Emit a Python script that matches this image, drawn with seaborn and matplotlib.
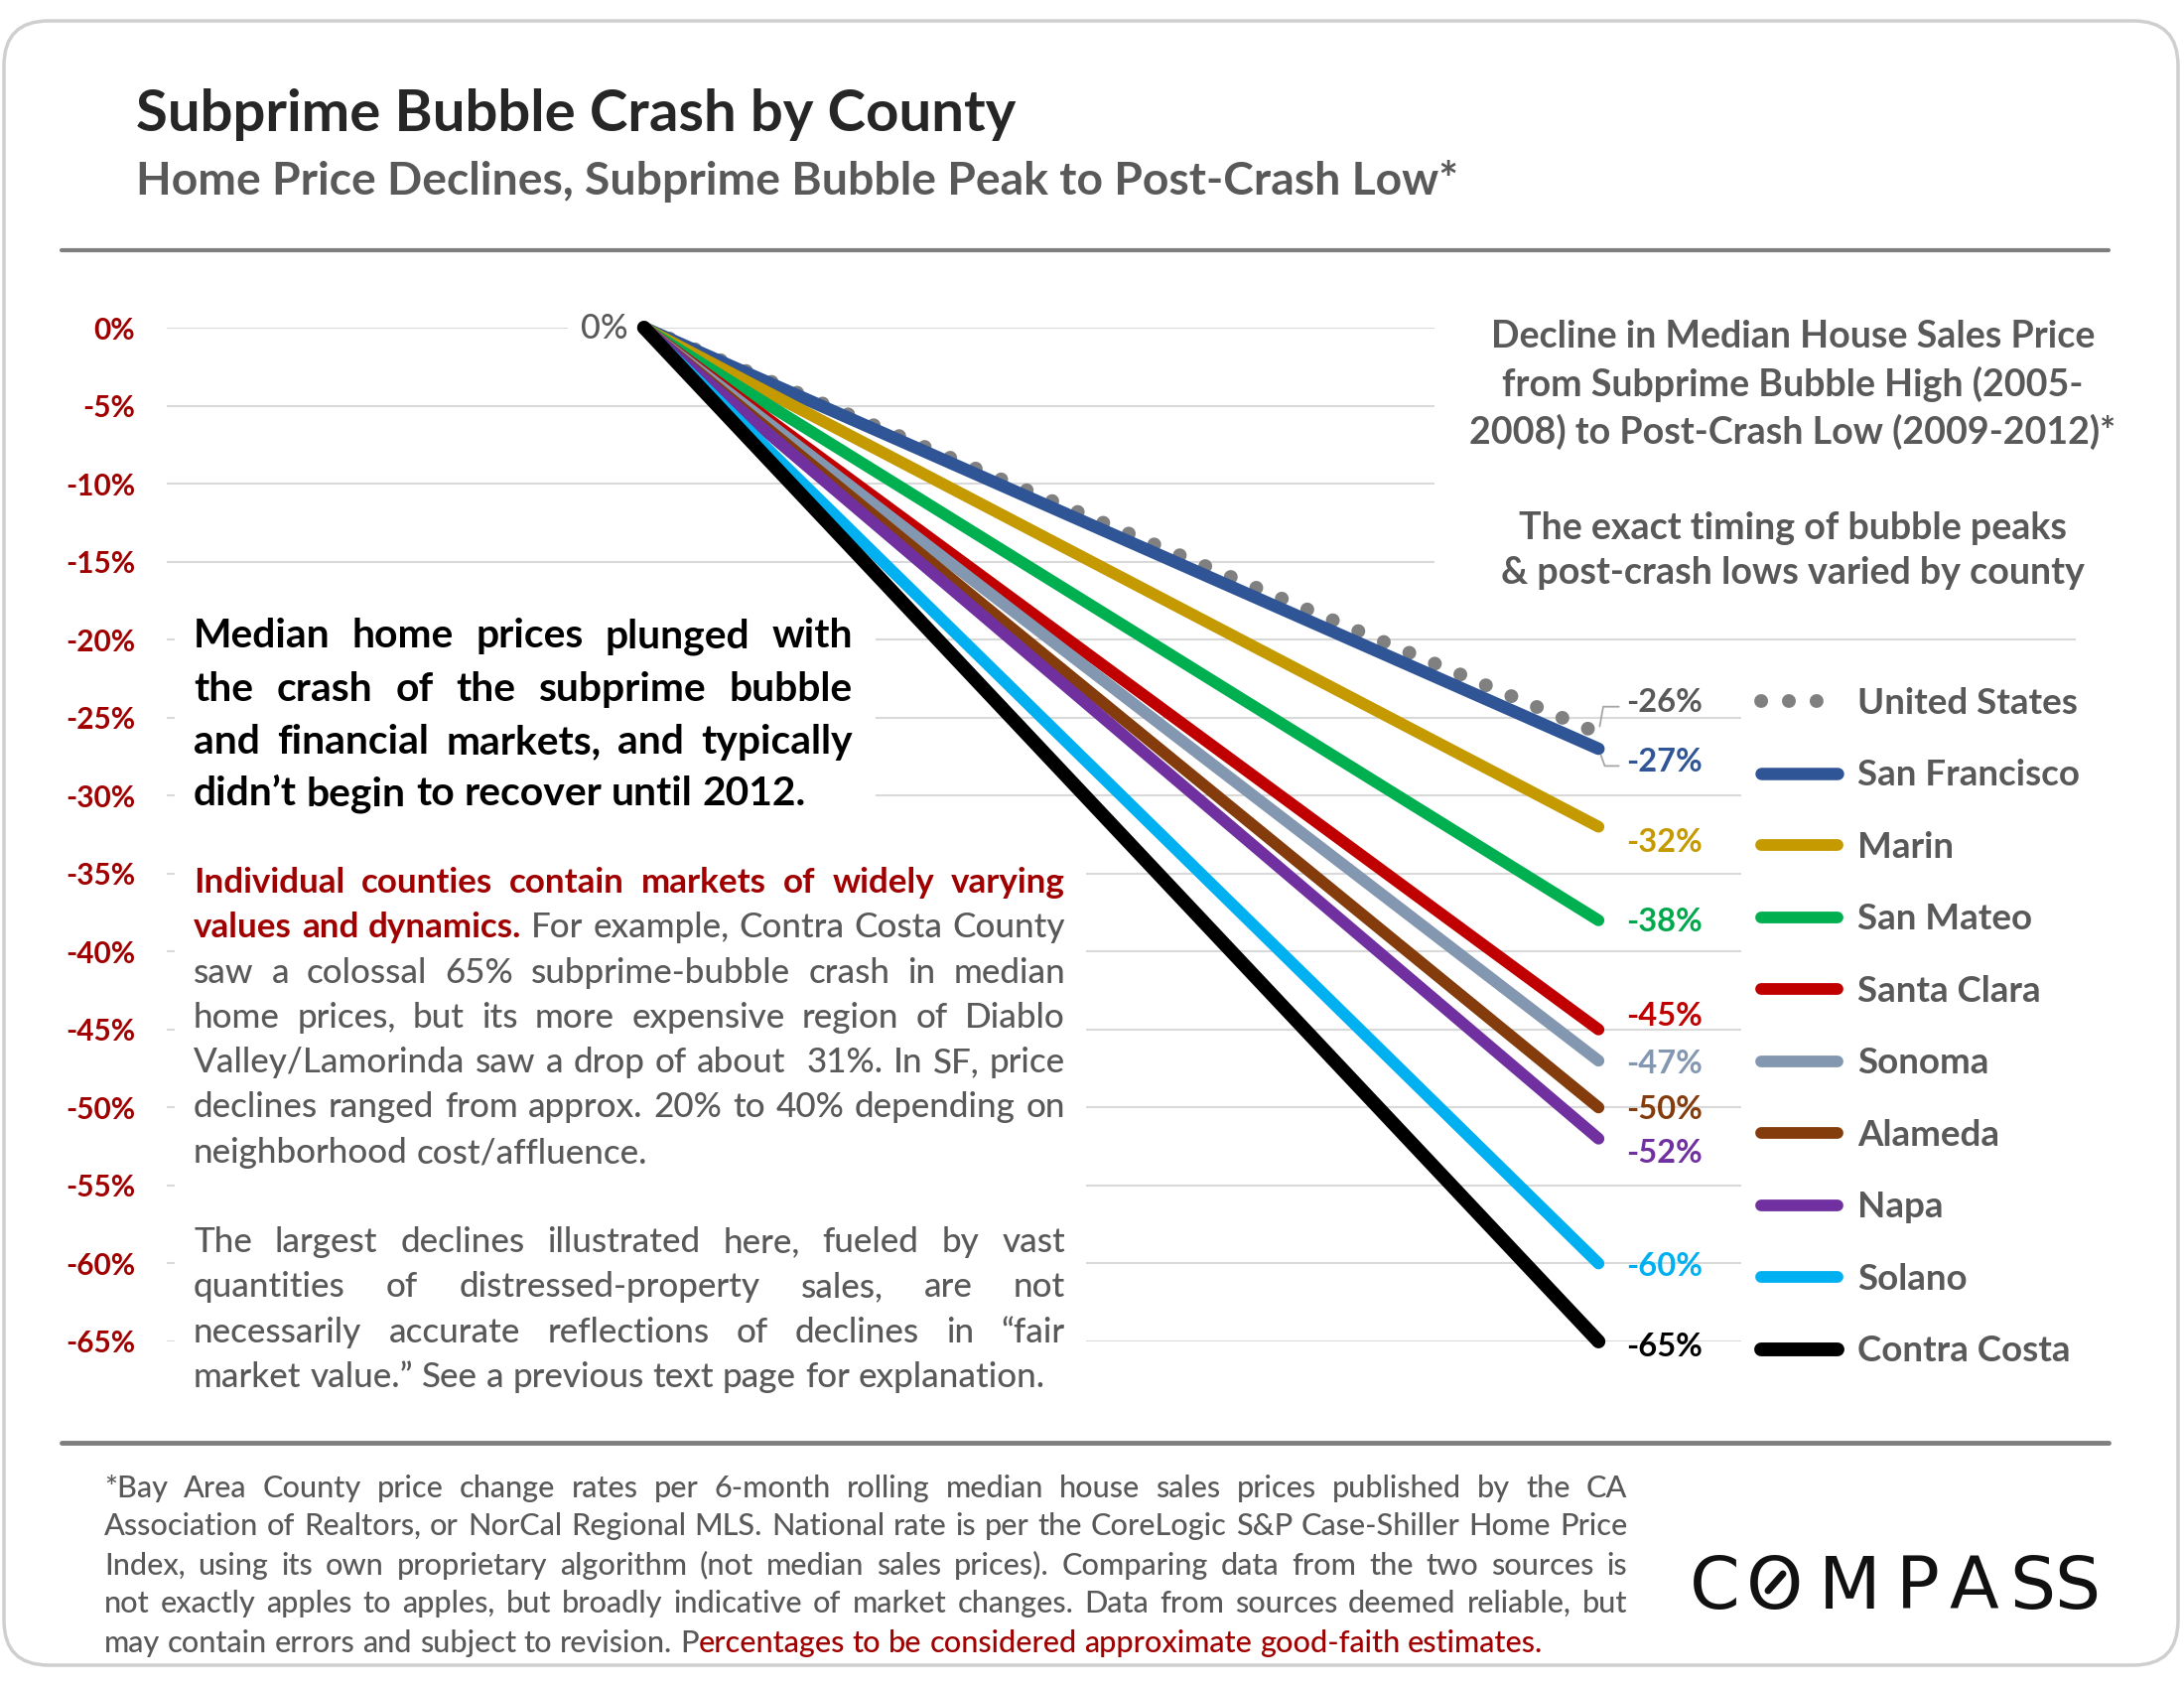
import numpy as np
import pandas as pd
import matplotlib
matplotlib.use("Agg")
import matplotlib.pyplot as plt
import seaborn as sns
from matplotlib import font_manager
from matplotlib.font_manager import FontProperties
from matplotlib.transforms import IdentityTransform, offset_copy
from matplotlib.patches import FancyBboxPatch, Rectangle
from matplotlib.lines import Line2D

# ---------------- data ----------------
counties = ["United States", "San Francisco", "Marin", "San Mateo", "Santa Clara",
            "Sonoma", "Alameda", "Napa", "Solano", "Contra Costa"]
declines = [-26, -27, -32, -38, -45, -47, -50, -52, -60, -65]
stages = ["Bubble Peak", "Post-Crash Low"]
start_value = 0
yticks = list(range(0, -70, -5))
ytick_labels = [f"{v}%" for v in yticks]

# styles (not data)
colors = ["#808080", "#2F5597", "#C59A00", "#00B050", "#C00000",
          "#8497B0", "#843C0C", "#7030A0", "#00B0F0", "#000000"]
label_colors = ["#595959", "#2F5597", "#C59A00", "#00A84C", "#C00000",
                "#8497B0", "#843C0C", "#7030A0", "#00B0F0", "#000000"]
widths = [10, 9, 8.5, 8.5, 8.5, 8.5, 8.5, 8.5, 8.5, 10]
label_pos = [-23.9, -27.7, -32.9, -38.0, -44.0, -47.1, -50.0, -52.8, -60.1, -65.2]

GRAY = "#595959"
RED = "#A00000"

# long-form table
rows = []
for c, v in zip(counties, declines):
    rows.append({"county": c, "stage": stages[0], "pos": 0, "change": start_value})
    rows.append({"county": c, "stage": stages[1], "pos": 1, "change": v})
df = pd.DataFrame(rows)

sns.set_theme(style="white")
plt.rcParams["font.family"] = ["Lato", "DejaVu Sans"]

lato_weights = {f.weight for f in font_manager.fontManager.ttflist if f.name == "Lato"}
MED = 500 if (500 in lato_weights or "medium" in lato_weights) else "normal"

W_PX, H_PX = 2200, 1700
fig = plt.figure(figsize=(22, 17), dpi=100)
fig.patch.set_facecolor("white")
renderer = fig.canvas.get_renderer()
PX = IdentityTransform()


def fp(size=10, bold=False, family="Lato"):
    if bold is True:
        w = "bold"
    elif bold is False:
        w = "normal"
    else:
        w = bold
    return FontProperties(family=family, weight=w, size=size)


def tw(s, prop):
    w, h, d = renderer.get_text_width_height_descent(s, prop, ismath=False)
    return w


def fit(s, target, bold=False, family="Lato"):
    return 50 * target / tw(s, fp(50, bold, family))


def ptpx(size):
    return size * 100 / 72


def ftext(x, yc, s, size, bold=False, color=GRAY, ha="left", family="Lato"):
    """place text with visual centre of caps at yc (top-down pixels)"""
    yb = yc + 0.35 * ptpx(size)
    return fig.text(x, H_PX - yb, s, fontproperties=fp(size, bold, family), color=color,
                    ha=ha, va="baseline", transform=PX)


# ---------------- justified paragraphs ----------------
def tokens(segs):
    words = [[]]
    for text, prop, col in segs:
        parts = text.split(" ")
        for i, p in enumerate(parts):
            if i > 0:
                words.append([])
            if p:
                words[-1].append((p, prop, col))
    return words


def para_words(line, styles, size):
    segs = [(t, fp(size, styles[k][0]), styles[k][1]) for t, k in line]
    words = tokens(segs)
    wds = [sum(tw(p, pr) for p, pr, c in w) for w in words]
    sp = tw("a a", segs[0][1]) - tw("aa", segs[0][1])
    return words, wds, sp


def nat_width(line, styles, size):
    words, wds, sp = para_words(line, styles, size)
    return sum(wds) + sp * (len(words) - 1)


def fit_para(lines, styles, last_ref, target):
    s0 = 50
    s1 = s0 * last_ref / nat_width(lines[-1], styles, s0)
    m = max(nat_width(l, styles, s0) for l in lines[:-1])
    s2 = s0 * target * 0.99 / m
    return min(s1, s2)


def draw_para(lines, styles, size, x0, x1, centers):
    for i, (line, yc) in enumerate(zip(lines, centers)):
        words, wds, sp = para_words(line, styles, size)
        last = i == len(lines) - 1
        n = len(words)
        nat = sum(wds) + sp * (n - 1)
        if n > 1 and (not last or nat > x1 - x0):
            gap = (x1 - x0 - sum(wds)) / (n - 1)
        else:
            gap = sp
        yb = yc + 0.35 * ptpx(size)
        x = x0
        for w, wd in zip(words, wds):
            xx = x
            for p, pr, c in w:
                fig.text(xx, H_PX - yb, p, fontproperties=pr, color=c, transform=PX,
                         ha="left", va="baseline")
                xx += tw(p, pr)
            x += wd + gap


# ---------------- frame ----------------
fig.add_artist(FancyBboxPatch((4, H_PX - 1677), 2190, 1656,
                              boxstyle="round,pad=0,rounding_size=45",
                              ec="#CFCFCF", fc="none", lw=2.5, transform=PX, zorder=0))
fig.add_artist(Line2D([62, 2124], [H_PX - 252] * 2, transform=PX, color="#7F7F7F", lw=3))
fig.add_artist(Line2D([62, 2124], [H_PX - 1453] * 2, transform=PX, color="#7F7F7F", lw=3.5))

# titles
ftext(137, 112, "Subprime Bubble Crash by County",
      fit("Subprime Bubble Crash by County", 888, True), True, "#262626")
ftext(137, 180, "Home Price Declines, Subprime Bubble Peak to Post-Crash Low*",
      fit("Home Price Declines, Subprime Bubble Peak to Post-Crash Low*", 1331, True), True, GRAY)

# ---------------- axes ----------------
ax_l, ax_r, ax_t, ax_b = 168, 2091, 330, 1351
ax = fig.add_axes([ax_l / W_PX, 1 - ax_b / H_PX, (ax_r - ax_l) / W_PX, (ax_b - ax_t) / H_PX])
ax.set_facecolor("white")
for s in ax.spines.values():
    s.set_visible(False)

for i, (c, col, lw) in enumerate(zip(counties, colors, widths)):
    sub = df[df["county"] == c]
    if i == 0:
        style = dict(linestyle=(0, (0.01, 2.0)), dash_capstyle="round")
    else:
        style = dict(solid_capstyle="round")
    sns.lineplot(data=sub, x="pos", y="change", ax=ax, color=col, linewidth=lw,
                 legend=False, sort=False, errorbar=None, zorder=3 + i, clip_on=False, **style)
    ax.lines[-1].set_label(c)

ax.set_xlim(-0.5, 1.5)
ax.set_ylim(min(yticks), max(yticks))
ax.set_xticks([])
ax.set_yticks(yticks)
tick_size = fit("-10%", 70, True)
ax.set_yticklabels(ytick_labels, fontproperties=fp(tick_size, True), color=RED)
ax.tick_params(axis="y", length=0, pad=23)
ax.yaxis.grid(True, color="#D9D9D9", lw=1.5)
ax.set_axisbelow(True)
ax.set_xlabel("")
ax.set_ylabel("")


def white_box(x0, y0, x1, y1):
    ax.add_artist(Rectangle((x0, H_PX - y1), x1 - x0, y1 - y0, transform=PX,
                            fc="white", ec="none", zorder=1, clip_on=False))


white_box(176, 600, 882, 860)      # bold paragraph
white_box(176, 860, 1094, 1420)    # grey paragraphs
white_box(1445, 300, 2100, 600)    # right note
white_box(1754, 690, 2100, 1400)   # legend
white_box(572, 316, 646, 344)      # "0%" label

# end labels
lab_size = fit("-27%", 77, True)
cap_off = offset_copy(ax.transData, fig=fig, x=0, y=-0.35 * ptpx(lab_size), units="dots")
lab_x = 1.029
for i, (v, ly, col) in enumerate(zip(declines, label_pos, label_colors)):
    txt = f"{v}%"
    if i in (0, 1):
        ax.annotate(txt, xy=(1, v), xycoords="data", xytext=(lab_x, ly), textcoords=cap_off,
                    fontproperties=fp(lab_size, True), color=col, ha="left", va="baseline",
                    arrowprops=dict(arrowstyle="-", color="#A6A6A6", lw=1.3,
                                    connectionstyle="angle,angleA=0,angleB=%d,rad=0" % (80 if i == 0 else -70),
                                    relpos=(0, 0.35), shrinkA=3, shrinkB=5),
                    zorder=20, annotation_clip=False)
    else:
        ax.text(lab_x, ly, txt, transform=cap_off, fontproperties=fp(lab_size, True),
                color=col, ha="left", va="baseline", zorder=20)

# start label
ax.text(0, start_value, f"{start_value}%", transform=offset_copy(ax.transData, fig=fig, x=-16,
        y=-0.35 * ptpx(lab_size), units="dots"), fontproperties=fp(lab_size * 1.05, MED),
        color=GRAY, ha="right", va="baseline", zorder=20)

# ---------------- legend ----------------
leg_size = fit("San Francisco", 225, True)
leg_px = ptpx(leg_size)
leg_fp = fp(leg_size, True)
_, lp_h, lp_d = renderer.get_text_width_height_descent("lp", leg_fp, ismath=False)
pitch = 72.5
labelspacing = (pitch - lp_h) / leg_px
first_center = 706
top_y = first_center + 0.35 * leg_px - (lp_h - lp_d)
handles = list(ax.lines[:len(counties)])
leg = ax.legend(handles=handles, labels=counties, loc="upper left",
                bbox_to_anchor=(1774 / W_PX, 1 - top_y / H_PX), bbox_transform=fig.transFigure,
                frameon=False, borderpad=0, borderaxespad=0, prop=leg_fp,
                handlelength=77 / leg_px, handletextpad=20 / leg_px, labelspacing=labelspacing,
                labelcolor=GRAY)
leg.set_zorder(30)

# ---------------- right note ----------------
note_size = fit("Decline in Median House Sales Price", 612, True)
for s, yc in zip(["Decline in Median House Sales Price",
                  "from Subprime Bubble High (2005-",
                  "2008) to Post-Crash Low (2009-2012)*",
                  "The exact timing of bubble peaks",
                  "& post-crash lows varied by county"],
                 [337, 386, 434, 530, 575]):
    ftext(1806, yc, s, note_size, True, GRAY, ha="center")

# ---------------- left paragraphs ----------------
st_bold = {"b": (True, "#000000")}
bold_lines = [[("Median home prices plunged with", "b")],
              [("the crash of the subprime bubble", "b")],
              [("and financial markets, and typically", "b")],
              [("didn\u2019t begin to recover until 2012.", "b")]]
bsize = fit_para(bold_lines, st_bold, 619, 664)
draw_para(bold_lines, st_bold, bsize, 195, 859, [638, 692, 745, 797])

st_p = {"r": (True, RED), "g": (MED, GRAY)}
p2 = [[("Individual counties contain markets of widely varying", "r")],
      [("values and dynamics.", "r"), (" For example, Contra Costa County", "g")],
      [("saw a colossal 65% subprime-bubble crash in median", "g")],
      [("home prices, but its more expensive region of Diablo", "g")],
      [("Valley/Lamorinda saw a drop of about  31%. In SF, price", "g")],
      [("declines ranged from approx. 20% to 40% depending on", "g")],
      [("neighborhood cost/affluence.", "g")]]
p3 = [[("The largest declines illustrated here, fueled by vast", "g")],
      [("quantities of distressed-property sales, are not", "g")],
      [("necessarily accurate reflections of declines in \u201cfair", "g")],
      [("market value.\u201d See a previous text page for explanation.", "g")]]
psize = min(fit_para(p2, st_p, 466, 878), fit_para(p3, st_p, 874, 878))
draw_para(p2, st_p, psize, 195, 1073, [887, 932, 978, 1023, 1068, 1113, 1159])
draw_para(p3, st_p, psize, 195, 1073, [1249, 1294, 1340, 1385])

# ---------------- footer ----------------
st_f = {"g": (MED, GRAY), "r": (MED, RED)}
foot = [[("*Bay Area County price change rates per 6-month rolling median house sales prices published by the CA", "g")],
        [("Association of Realtors, or NorCal Regional MLS. National rate is per the CoreLogic S&P Case-Shiller Home Price", "g")],
        [("Index, using its own proprietary algorithm (not median sales prices). Comparing data from the two sources is", "g")],
        [("not exactly apples to apples, but broadly indicative of market changes. Data from sources deemed reliable, but", "g")],
        [("may contain errors and subject to revision. P", "g"),
         ("ercentages to be considered approximate good-faith estimates.", "r")]]
fsize = fit_para(foot, st_f, 1483, 1534)
draw_para(foot, st_f, fsize, 105, 1639, [1497, 1535, 1575, 1613, 1653])

# ---------------- logo ----------------
logo_size = 53 / 0.729 * 72 / 100
for ch, xc in zip("COMPASS", [1727, 1788, 1863, 1932, 1988, 2047, 2092]):
    fig.text(xc, H_PX - 1620, ch, fontproperties=fp(logo_size, False, "DejaVu Sans"),
             color="#111111", ha="center", va="baseline", transform=PX)
fig.add_artist(Line2D([1781, 1796], [H_PX - 1602, H_PX - 1585], transform=PX,
                      color="#111111", lw=5, solid_capstyle="round"))

fig.savefig("out.png", dpi=100, facecolor="white")
